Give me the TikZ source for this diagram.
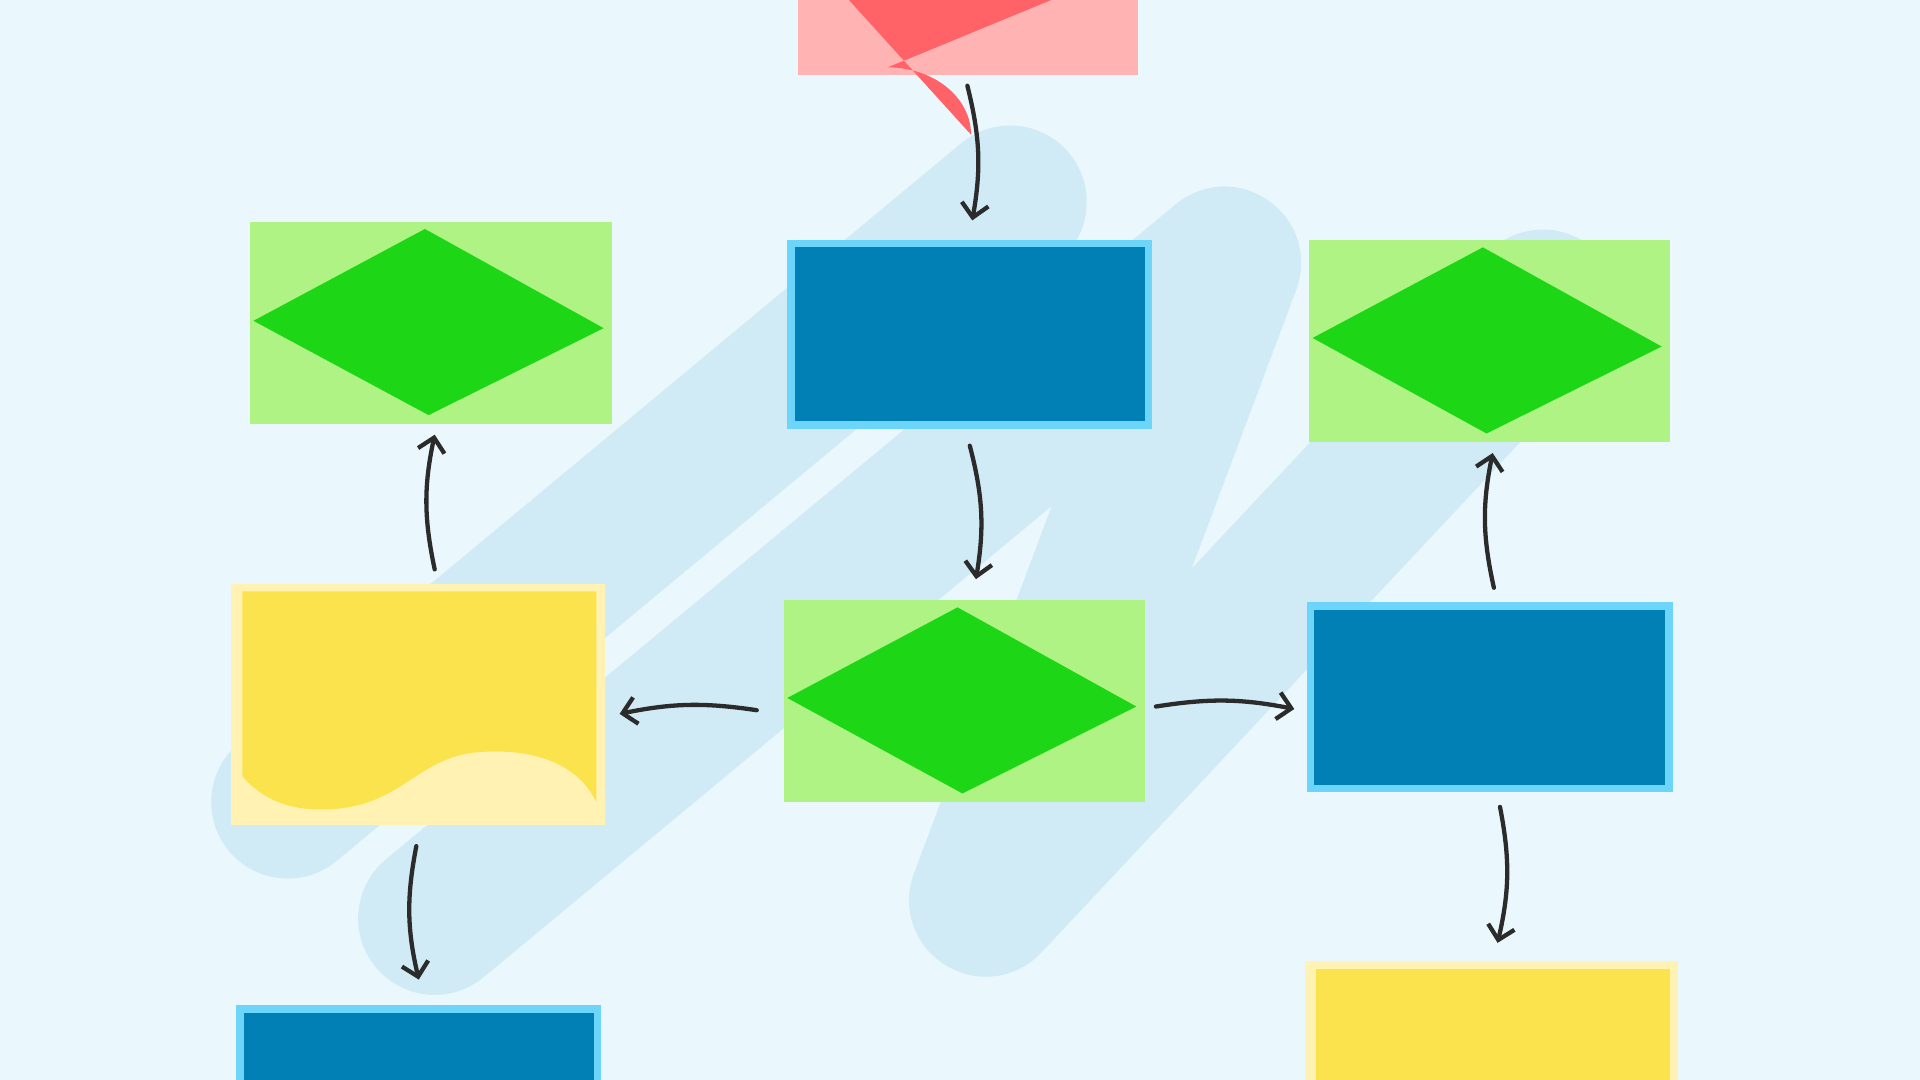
\documentclass[tikz,border=0pt]{standalone}
\usetikzlibrary{arrows.meta}
\definecolor{bg}{HTML}{EAF8FE}
\definecolor{brush}{HTML}{D0EBF5}
\definecolor{pinkc}{HTML}{FFB3B3}
\definecolor{redc}{HTML}{FF6368}
\definecolor{lblue}{HTML}{6DD5FA}
\definecolor{dblue}{HTML}{0180B5}
\definecolor{lgreen}{HTML}{AEF384}
\definecolor{dgreen}{HTML}{1DD615}
\definecolor{lyel}{HTML}{FFF2B3}
\definecolor{dyel}{HTML}{FAE34C}
\definecolor{ink}{HTML}{2B2B2B}
\tikzset{
 arr/.style={draw=ink,line width=3.5pt,line cap=round,-{Straight Barb[length=11pt,width=22pt,line width=3.5pt]}},
 stroke/.style={draw=brush,line width=125pt,line cap=round,line join=round}
}
\begin{document}
\begin{tikzpicture}[x=1pt,y=-1pt]
\fill[bg] (0,0) rectangle (1568,882);
\useasboundingbox (0,0) rectangle (1568,882);
\begin{scope}
\clip (0,0) rectangle (1568,882);
\draw[stroke] (235,655) -- (825,165);
\draw[stroke] (355,750) -- (1000,215) -- (805,735) -- (1260,250);
% top red
\fill[pinkc] (652,0) rectangle (929,61);
\fill[redc] (657,-40) -- (924,-40) -- (924,0) arc[start angle=0,end angle=90,x radius=-68,y radius=-55] -- (725,55) arc[start angle=90,end angle=180,x radius=-68,y radius=-55] -- cycle;
% blue boxes
\foreach \a/\b/\c/\d in {643/196/941/350, 1067/492/1366/647, 193/821/491/900}{
 \fill[lblue] (\a,\b) rectangle (\c,\d);
 \fill[dblue] (\a+6,\b+6) rectangle (\c-6,\d-6);}
% green
\fill[lgreen] (204,181) rectangle (500,346);
\fill[dgreen] (207,262) -- (347,187) -- (493,268) -- (350,339) -- cycle;
\fill[lgreen] (1069,196) rectangle (1364,361);
\fill[dgreen] (1072,276) -- (1211,202) -- (1357,283) -- (1214,354) -- cycle;
\fill[lgreen] (640,490) rectangle (935,655);
\fill[dgreen] (643,570) -- (782,496) -- (928,577) -- (786,648) -- cycle;
% yellow left
\fill[lyel] (189,477) rectangle (494,674);
\fill[dyel] (198,483) -- (487,483) -- (487,655) .. controls (470,620) and (430,612) .. (395,614) .. controls (340,616) and (330,660) .. (265,661) .. controls (230,662) and (210,648) .. (198,634) -- cycle;
% yellow right
\fill[lyel] (1066,785) rectangle (1370,900);
\fill[dyel] (1075,791) rectangle (1364,900);
\end{scope}
\coordinate (a1) at (790,70); \coordinate (b1) at (794,180);
\coordinate (a2) at (792,364); \coordinate (b2) at (797,473);
\coordinate (a3) at (618,580); \coordinate (b3) at (506,583);
\coordinate (a4) at (944,577); \coordinate (b4) at (1057,579);
\coordinate (a5) at (355,465); \coordinate (b5) at (355,355);
\coordinate (a6) at (1220,480); \coordinate (b6) at (1219,370);
\coordinate (a7) at (340,691); \coordinate (b7) at (342,800);
\coordinate (a8) at (1225,659); \coordinate (b8) at (1223,770);
\draw[arr] (a1) to[bend left=12] (b1);
\draw[arr] (a2) to[bend left=12] (b2);
\draw[arr] (a3) to[bend right=10] (b3);
\draw[arr] (a4) to[bend left=10] (b4);
\draw[arr] (a5) to[bend left=12] (b5);
\draw[arr] (a6) to[bend left=12] (b6);
\draw[arr] (a7) to[bend right=12] (b7);
\draw[arr] (a8) to[bend left=12] (b8);
\end{tikzpicture}
\end{document}
